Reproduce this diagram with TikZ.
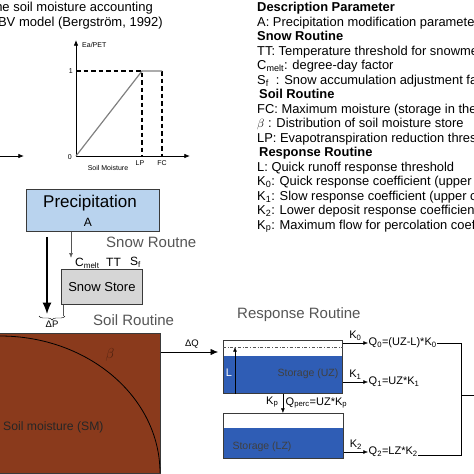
\documentclass[tikz,border=0pt]{standalone}
\usepackage{fontspec}
\setmainfont{Liberation Sans}
\usetikzlibrary{arrows.meta,positioning,decorations.pathreplacing}
\definecolor{hbvblue}{HTML}{B9D3EE}
\definecolor{hbvgray}{HTML}{D6D6D6}
\definecolor{hbvsoil}{HTML}{8A3A1C}
\definecolor{hbvwater}{HTML}{2F5DB5}
\definecolor{hbvtext}{HTML}{555555}
\definecolor{hbvframe}{HTML}{3A3A3A}

\begin{document}
\begin{tikzpicture}[x=1pt,y=-1pt,
 box/.style={draw=hbvframe,thick,inner sep=0pt,anchor=north west},
 routine/.style={text=hbvtext,font=\fontsize{15}{15}\selectfont,inner sep=0pt,anchor=west},
 lbl/.style={font=\fontsize{11}{11}\selectfont,inner sep=0.5pt},
 axlbl/.style={font=\fontsize{7}{7}\selectfont,inner sep=0pt},
 water/.style={path picture={\fill[hbvwater] (path picture bounding box.south west)
   rectangle ([yshift=#1]path picture bounding box.south east);}},
 axis/.style={-{Latex[length=2mm,width=1.6mm]},thick},
 guide/.style={line width=1.2pt,dash pattern=on 4.5pt off 3pt},
 arr/.style={-{Latex[length=2.6mm,width=2.2mm]},semithick},
 bigarr/.style={-{Latex[length=4mm,width=3.2mm]},line width=1.4pt},
 flow/.style={-{Latex[length=1.6mm,width=1.3mm]},thin}]
\useasboundingbox (0,0) rectangle (474,474);

\node[anchor=east,inner sep=0pt,font=\fontsize{13}{13}\selectfont] (title1) at (153,8) {he soil moisture accounting};
\node[anchor=east,inner sep=0pt,font=\fontsize{13}{13}\selectfont] (title2) at (163,23) {IBV model (Bergström, 1992)};

\coordinate (o) at (76,156);
\coordinate (lp) at (142,71);
\coordinate (fc) at (162,71);
\draw[axis] (o) -- (76,40);
\draw[axis] (o) -- (190,156);
\draw[axis] (-5,156) -- (24,156);
\draw[guide] (o |- lp) -- (lp) -- (lp |- o);
\draw[guide] (fc) -- (fc |- o);
\draw[gray,line width=1.2pt] (o) -- (lp) -- (fc);
\node[axlbl,anchor=west] (ea) at (82,45) {Ea/PET};
\node[axlbl,anchor=east] (one) at (73,71) {1};
\node[axlbl,anchor=east] (zero) at (72,157) {0};
\node[axlbl] (lplbl) at (140,163) {LP};
\node[axlbl] (fclbl) at (162,163) {FC};
\node[axlbl] (smlbl) at (108,168) {Soil Moisture};

\node[anchor=north west,align=left,inner sep=0pt,font=\fontsize{12.9}{14.5}\selectfont] (desc) at (257,2)
 {\textbf{Description Parameter}\\
  A: Precipitation modification paramete\\
  \textbf{Snow Routine}\\
  TT: Temperature threshold for snowme\\
  C\textsubscript{melt}: degree-day factor\\
  S\textsubscript{f}\ \ : Snow accumulation adjustment fa\\
  \hspace{2pt}\textbf{Soil Routine}\\
  FC: Maximum moisture (storage in the\\
  $\beta$ : Distribution of soil moisture store\\
  LP: Evapotranspiration reduction thres\\
  \hspace{2pt}\textbf{Response Routine}\\
  L: Quick runoff response threshold\\
  K\textsubscript{0}: Quick response coefficient (upper\\
  K\textsubscript{1}: Slow response coefficient (upper c\\
  K\textsubscript{2}: Lower deposit response coefficien\\
  K\textsubscript{p}: Maximum flow for percolation coef};

\node[box,fill=hbvblue,minimum width=133pt,minimum height=42pt] (precip) at (26,189) {};
\node[inner sep=0pt,font=\fontsize{17}{17}\selectfont] (ptxt) at (90,203) {Precipitation};
\node[inner sep=0pt,font=\fontsize{12}{12}\selectfont] (pA) at (88,222) {A};

\node[routine] (snowr) at (106,242) {Snow Routne};
\node[anchor=west,inner sep=0pt,font=\fontsize{12}{12}\selectfont] (cmelt) at (75,263) {C\textsubscript{melt}};
\node[anchor=west,inner sep=0pt,font=\fontsize{12}{12}\selectfont] (tt) at (106,262) {TT};
\node[anchor=west,inner sep=0pt,font=\fontsize{12}{12}\selectfont] (sf) at (130,262) {S\textsubscript{f}};
\draw[flow,hbvtext] ([xshift=45pt]precip.south west) -- ([xshift=45pt]precip.south west |- cmelt.north);

\node[box,fill=hbvgray,minimum width=81pt,minimum height=35pt,font=\fontsize{13}{13}\selectfont] (snow) at (61,269) {Snow Store};

\coordinate (bl) at (39,316);
\coordinate (br) at (65,316);
\draw[bigarr,shorten <=5pt,shorten >=2pt] ([xshift=21pt]precip.south west) -- ([xshift=21pt]precip.south west |- bl);
\draw[hbvtext] ([xshift=2pt]snow.south west) -- ([xshift=2pt]snow.south west |- br);
\draw[decorate,decoration={brace,amplitude=4pt,mirror}] (bl) -- (br) node[midway,below=4pt,lbl,font=\fontsize{9.5}{10}\selectfont] (dp) {ΔP};

\node[routine] (soilr) at (93,320) {Soil Routine};
\node[box,fill=hbvsoil,minimum width=170pt,minimum height=140pt] (soil) at (-10,333) {};
\draw[thick] (0,336) arc[start angle=90,end angle=0,x radius=160pt,y radius=137pt];
\node[text=hbvsoil!55!black,font=\fontsize{14}{14}\selectfont] (beta) at (110,355) {$\beta$};
\node[anchor=west,inner sep=0pt,text=black!85,font=\fontsize{12.2}{13}\selectfont] (sm) at (3,427) {Soil moisture (SM)};

\node[routine] (respr) at (237,315) {Response Routine};
\node[box,fill=white,water=37pt,minimum width=119pt,minimum height=53pt] (uz) at (223,340) {};
\node[box,fill=white,water=30pt,minimum width=120pt,minimum height=45pt] (lz) at (223,413) {};
\draw[hbvtext,dash dot,thin] ([yshift=-7pt]uz.north west) -- ([yshift=-7pt]uz.north east);
\draw[flow] ([xshift=12pt]uz.south west) -- ([xshift=12pt,yshift=-7pt]uz.north west);
\node[lbl,text=white] (ltxt) at (229,373) {L};
\node[lbl,text=black!75,font=\fontsize{10.5}{11}\selectfont] (uztxt) at (308,374) {Storage (UZ)};
\node[lbl,text=black!75,font=\fontsize{10.5}{11}\selectfont] (lztxt) at (262,447) {Storage (LZ)};

\draw[arr,shorten >=5pt] ([yshift=-19pt]soil.north east) -- ([yshift=-19pt]soil.north east -| uz.west)
  node[midway,above=3pt,lbl,font=\fontsize{9.5}{10}\selectfont] (dq) {ΔQ};

\draw[flow] (uz.south) -- (uz.south |- lz.north);
\node[lbl,anchor=east] (kp) at (279,402) {K\textsubscript{p}};
\node[lbl,anchor=west] (qperc) at (285,403) {Q\textsubscript{perc}=UZ*K\textsubscript{p}};

\node[lbl,anchor=west] (q0) at (368,343) {Q\textsubscript{0}=(UZ-L)*K\textsubscript{0}};
\node[lbl,anchor=west] (q1) at (368,382) {Q\textsubscript{1}=UZ*K\textsubscript{1}};
\node[lbl,anchor=west] (q2) at (368,452) {Q\textsubscript{2}=LZ*K\textsubscript{2}};
\draw[flow] (uz.east |- q0) -- node[above=2pt,lbl] (k0) {K\textsubscript{0}} (q0.west);
\draw[flow] (uz.east |- q1) -- node[above=2pt,lbl] (k1) {K\textsubscript{1}} (q1.west);
\draw[flow] (lz.east |- q2) -- node[above=2pt,lbl] (k2) {K\textsubscript{2}} (q2.west);

\coordinate (jtop) at (461,343);
\coordinate (jbot) at (461,455);
\coordinate (jout) at (480,395);
\draw[semithick] (q0.east) -- (jtop) -- (jbot) -- (q2.east |- jbot);
\draw[semithick] (jtop |- jout) -- (jout);
\end{tikzpicture}
\end{document}
